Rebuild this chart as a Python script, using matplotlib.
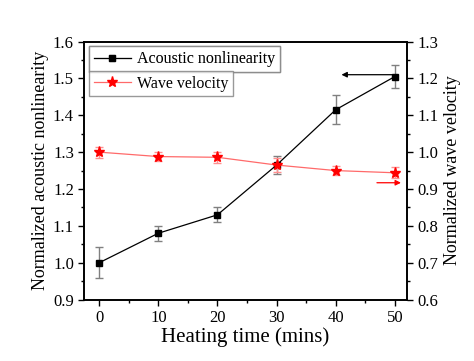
import numpy as np
import matplotlib.pyplot as plt
from matplotlib.ticker import MultipleLocator
from matplotlib.lines import Line2D

plt.rcParams['font.family'] = ['Liberation Serif', 'DejaVu Serif']

time = [0, 10, 20, 30, 40, 50]
nonlin = [1.00, 1.08, 1.13, 1.265, 1.415, 1.505]
nonlin_err = [0.042, 0.02, 0.02, 0.025, 0.04, 0.03]
vel = [1.00, 0.988, 0.986, 0.965, 0.950, 0.944]
vel_err = [0.015, 0.012, 0.015, 0.02, 0.012, 0.015]

fig, ax = plt.subplots(figsize=(4.74, 3.61), dpi=100)
fig.subplots_adjust(left=0.178, right=0.858, top=0.885, bottom=0.17)
ax2 = ax.twinx()

ax.errorbar(time, nonlin, yerr=nonlin_err, color='black', marker='s', ms=5,
            lw=0.9, ecolor='gray', elinewidth=1, capsize=3)
ax2.errorbar(time, vel, yerr=vel_err, color='#ff6a6a', marker='*', ms=8,
             mfc='red', mec='red', lw=0.9, ecolor='#ff9090', elinewidth=1, capsize=3)

ax.set_xlim(-2.5, 52)
ax.set_ylim(0.9, 1.6)
ax2.set_ylim(0.6, 1.3)
ax.xaxis.set_major_locator(MultipleLocator(10))
ax.xaxis.set_minor_locator(MultipleLocator(5))
ax.yaxis.set_major_locator(MultipleLocator(0.1))
ax.yaxis.set_minor_locator(MultipleLocator(0.05))
ax2.yaxis.set_major_locator(MultipleLocator(0.1))
ax2.yaxis.set_minor_locator(MultipleLocator(0.05))

for a in (ax, ax2):
    a.tick_params(which='major', direction='out', length=4, width=1, labelsize=12)
    a.tick_params(which='minor', direction='out', length=2.5, width=1)
    for s in a.spines.values():
        s.set_linewidth(1.2)
ax.yaxis.set_major_formatter(plt.FormatStrFormatter('%.1f'))
ax2.yaxis.set_major_formatter(plt.FormatStrFormatter('%.1f'))

ax.set_xlabel('Heating time (mins)', fontsize=15, labelpad=1)
ax.set_ylabel('Normalized acoustic nonlinearity', fontsize=13, labelpad=3)
ax2.set_ylabel('Normalized wave velocity', fontsize=13, labelpad=4)

ax.annotate('', xy=(40.5, 1.51), xytext=(50, 1.51),
            arrowprops=dict(arrowstyle='-|>', color='black', lw=0.9, mutation_scale=8))
ax2.annotate('', xy=(51.5, 0.917), xytext=(46.5, 0.917),
             arrowprops=dict(arrowstyle='-|>', color='red', lw=0.9, mutation_scale=8))

h1 = Line2D([], [], color='black', marker='s', ms=5, lw=0.9)
h2 = Line2D([], [], color='#ff6a6a', marker='*', ms=8, mfc='red', mec='red', lw=0.9)

leg1 = ax.legend(handles=[h1], labels=['Acoustic nonlinearity'], loc='upper left',
                 bbox_to_anchor=(0.0, 1.0), fontsize=11.5, frameon=True, fancybox=False,
                 edgecolor='gray', borderpad=0.3, handlelength=2.3, handletextpad=0.4,
                 borderaxespad=0.3)
ax.add_artist(leg1)
leg2 = ax2.legend(handles=[h2], labels=['Wave velocity'], loc='upper left',
                  bbox_to_anchor=(0.0, 0.905), fontsize=11.5, frameon=True, fancybox=False,
                  edgecolor='gray', borderpad=0.3, handlelength=2.3, handletextpad=0.4,
                  borderaxespad=0.3)

fig.savefig('out.png', dpi=100)
